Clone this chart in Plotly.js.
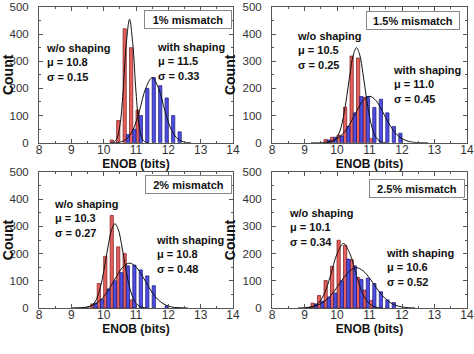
<!DOCTYPE html>
<html>
<head>
<meta charset="utf-8">
<script src="https://cdn.plot.ly/plotly-3.0.1.min.js"></script>
<style>html,body{margin:0;padding:0;background:#fff;}</style>
</head>
<body>
<div id="chart" style="width:474px;height:354px;"></div>
<script>
// Histogram bin centers (ENOB, bits)
const bins = [9.1, 9.3, 9.5, 9.7, 9.9, 10.1, 10.3, 10.5, 10.7, 10.9, 11.1, 11.3, 11.5, 11.7, 11.9, 12.1, 12.3, 12.5];

// Counts without shaping (red) and with shaping (blue), per mismatch panel
const red1  = [0, 0, 0, 0, 0, 0, 10, 82, 420, 350, 120, 0, 0, 0, 0, 0, 0, 0];
const blue1 = [0, 0, 0, 0, 0, 0, 0, 0, 30, 50, 100, 200, 240, 210, 165, 100, 40, 0];
const red2  = [0, 0, 0, 12, 20, 28, 131, 319, 312, 167, 15, 0, 0, 0, 0, 0, 0, 0];
const blue2 = [0, 0, 0, 10, 20, 25, 60, 110, 170, 170, 130, 160, 110, 60, 35, 0, 0, 0];
const red3  = [0, 0, 0, 15, 90, 190, 340, 225, 200, 30, 0, 0, 0, 0, 0, 0, 0, 0];
const blue3 = [0, 0, 0, 18, 32, 70, 100, 130, 155, 158, 140, 118, 82, 0, 8, 0, 0, 0];
const red4  = [0, 18, 46, 101, 153, 249, 231, 178, 112, 66, 28, 0, 0, 0, 0, 0, 0, 0];
const blue4 = [0, 15, 25, 40, 55, 100, 180, 155, 105, 110, 90, 60, 30, 20, 0, 0, 0, 0];

// Gaussian fit curves
const fitRedX1 = [10.2, 10.3, 10.4, 10.5, 10.6, 10.7, 10.8, 10.9, 11.0, 11.1, 11.2, 11.3, 11.4];
const fitRedY1 = [0, 2, 13, 61, 187, 365, 455, 365, 187, 61, 13, 2, 0];
const fitBlueX1 = [10.3, 10.5, 10.7, 10.9, 11.1, 11.3, 11.5, 11.7, 11.9, 12.1, 12.3, 12.5, 12.7];
const fitBlueY1 = [0, 2, 13, 46, 115, 200, 240, 200, 115, 46, 13, 2, 0];

const fitRedX2 = [9.7, 9.8, 9.9, 10.0, 10.1, 10.2, 10.3, 10.4, 10.5, 10.6, 10.7, 10.8, 10.9, 11.0, 11.1, 11.2, 11.3, 11.4, 11.5];
const fitRedY2 = [0, 2, 7, 20, 47, 97, 170, 254, 323, 350, 323, 254, 170, 97, 47, 20, 7, 2, 0];
const fitBlueX2 = [9.2, 9.4, 9.6, 9.8, 10.0, 10.2, 10.4, 10.6, 10.8, 11.0, 11.2, 11.4, 11.6, 11.8, 12.0, 12.2, 12.4, 12.6, 12.8];
const fitBlueY2 = [0, 0, 1, 5, 15, 35, 70, 115, 155, 171, 155, 115, 70, 35, 15, 5, 1, 0, 0];

const fitRedX3 = [9.35, 9.45, 9.55, 9.65, 9.75, 9.85, 9.95, 10.05, 10.15, 10.25, 10.35, 10.45, 10.55, 10.65, 10.75, 10.85, 10.95, 11.05, 11.15, 11.25, 11.35];
const fitRedY3 = [0, 1, 4, 11, 26, 56, 103, 167, 236, 289, 310, 289, 236, 167, 103, 56, 26, 11, 4, 1, 0];
const fitBlueX3 = [9.0, 9.2, 9.4, 9.6, 9.8, 10.0, 10.2, 10.4, 10.6, 10.8, 11.0, 11.2, 11.4, 11.6, 11.8, 12.0, 12.2, 12.4, 12.6];
const fitBlueY3 = [0, 1, 2, 7, 19, 41, 76, 117, 151, 165, 151, 117, 76, 41, 19, 7, 2, 1, 0];

const fitRedX4 = [9.0, 9.2, 9.4, 9.6, 9.8, 10.0, 10.2, 10.4, 10.6, 10.8, 11.0, 11.2, 11.4];
const fitRedY4 = [0, 3, 15, 50, 119, 199, 237, 199, 119, 50, 15, 3, 0];
const fitBlueX4 = [8.8, 9.0, 9.2, 9.4, 9.6, 9.8, 10.0, 10.2, 10.4, 10.6, 10.8, 11.0, 11.2, 11.4, 11.6, 11.8, 12.0, 12.2, 12.4];
const fitBlueY4 = [0, 1, 4, 10, 23, 45, 76, 110, 137, 148, 137, 110, 76, 45, 23, 10, 4, 1, 0];

// Text
const panelTitles = ['1% mismatch', '1.5% mismatch', '2% mismatch', '2.5% mismatch'];
const woLabels = [
  ['w/o shaping', 'μ = 10.8', 'σ = 0.15'],
  ['w/o shaping', 'μ = 10.5', 'σ = 0.25'],
  ['w/o shaping', 'μ = 10.3', 'σ = 0.27'],
  ['w/o shaping', 'μ = 10.1', 'σ = 0.34']
];
const withLabels = [
  ['with shaping', 'μ = 11.5', 'σ = 0.33'],
  ['with shaping', 'μ = 11.0', 'σ = 0.45'],
  ['with shaping', 'μ = 10.8', 'σ = 0.48'],
  ['with shaping', 'μ = 10.6', 'σ = 0.52']
];

const FONT = 'Liberation Sans, Arial, sans-serif';
const W = 474, H = 354;
const REDFILL = 'rgb(230,96,94)', REDLINE = 'rgb(120,25,25)';
const BLUEFILL = 'rgb(78,78,228)', BLUELINE = 'rgb(25,25,115)';

const reds = [red1, red2, red3, red4];
const blues = [blue1, blue2, blue3, blue4];
const fits = [
  [fitRedX1, fitRedY1, fitBlueX1, fitBlueY1],
  [fitRedX2, fitRedY2, fitBlueX2, fitBlueY2],
  [fitRedX3, fitRedY3, fitBlueX3, fitBlueY3],
  [fitRedX4, fitRedY4, fitBlueX4, fitBlueY4]
];

const nz = a => a.map(v => (v === 0 ? null : v));
const traces = [];
for (let i = 0; i < 4; i++) {
  const xa = i === 0 ? 'x' : 'x' + (i + 1);
  const ya = i === 0 ? 'y' : 'y' + (i + 1);
  traces.push({type: 'bar', x: bins, y: nz(reds[i]), width: 0.1, offset: -0.1, xaxis: xa, yaxis: ya,
    marker: {color: REDFILL, line: {color: REDLINE, width: 0.7}}, hoverinfo: 'skip'});
  traces.push({type: 'bar', x: bins, y: nz(blues[i]), width: 0.1, offset: 0, xaxis: xa, yaxis: ya,
    marker: {color: BLUEFILL, line: {color: BLUELINE, width: 0.7}}, hoverinfo: 'skip'});
  const f = fits[i];
  traces.push({type: 'scatter', mode: 'lines', x: f[0], y: f[1], xaxis: xa, yaxis: ya,
    line: {color: '#111', width: 1, shape: 'spline', smoothing: 1}, hoverinfo: 'skip'});
  traces.push({type: 'scatter', mode: 'lines', x: f[2], y: f[3], xaxis: xa, yaxis: ya,
    line: {color: '#111', width: 1, shape: 'spline', smoothing: 1}, hoverinfo: 'skip'});
}

// panel frames in pixels: [left, right, top, bottom]
const frames = [[39, 233, 7, 142.7], [272, 467, 7, 142.7], [39, 233, 172, 308], [272, 467, 172, 308]];

function xAxis(fr, anchor) {
  return {
    domain: [fr[0] / W, fr[1] / W], anchor: anchor, range: [8, 14], tick0: 8, dtick: 1,
    ticks: 'inside', ticklen: 4, tickcolor: '#555', mirror: 'ticks', showline: true,
    linecolor: '#555', linewidth: 1, showgrid: false, zeroline: false,
    minor: {ticks: 'inside', ticklen: 2, dtick: 0.5, tickcolor: '#555'},
    ticklabeloverflow: 'allow', ticklabelstandoff: -4,
    tickfont: {family: FONT, size: 12, color: '#333'},
    title: {text: '<b>ENOB (bits)</b>', font: {family: FONT, size: 12, color: '#111'}, standoff: 0}
  };
}
function yAxis(fr, anchor) {
  return {
    domain: [1 - fr[3] / H, 1 - fr[2] / H], anchor: anchor, range: [0, 500], tick0: 0, dtick: 100,
    ticks: 'inside', ticklen: 4, tickcolor: '#555', mirror: 'ticks', showline: true,
    linecolor: '#555', linewidth: 1, showgrid: false, zeroline: false,
    minor: {ticks: 'inside', ticklen: 2, dtick: 50, tickcolor: '#555'},
    ticklabeloverflow: 'allow', ticklabelstandoff: 7,
    tickfont: {family: FONT, size: 11.5, color: '#333'},
    title: {text: '<b>Count</b>', font: {family: FONT, size: 14, color: '#111'}, standoff: 3}
  };
}

const layout = {
  width: W, height: H, margin: {l: 0, r: 0, t: 0, b: 0},
  paper_bgcolor: '#fff', plot_bgcolor: '#fff', showlegend: false, barmode: 'overlay',
  xaxis: xAxis(frames[0], 'y'), yaxis: yAxis(frames[0], 'x'),
  xaxis2: xAxis(frames[1], 'y2'), yaxis2: yAxis(frames[1], 'x2'),
  xaxis3: xAxis(frames[2], 'y3'), yaxis3: yAxis(frames[2], 'x3'),
  xaxis4: xAxis(frames[3], 'y4'), yaxis4: yAxis(frames[3], 'x4'),
  annotations: []
};

// label placement (pixels)
const boxPos = [[188, 19.5, 84], [413, 20, 90], [188.5, 184.5, 83], [417, 188.5, 92]];
const woPos = [[44, 62], [295, 50], [52, 218.5], [287, 227.8]];
const withPos = [[155, 61], [391, 85], [154, 254.5], [384, 267.6]];

for (let i = 0; i < 4; i++) {
  const b = boxPos[i];
  layout.annotations.push({
    xref: 'paper', yref: 'paper', x: b[0] / W, y: 1 - b[1] / H, xanchor: 'center', yanchor: 'middle',
    text: '<b>' + panelTitles[i] + '</b>', showarrow: false, width: b[2], height: 15,
    bgcolor: '#fff', bordercolor: '#888', borderwidth: 1, borderpad: 1,
    font: {family: FONT, size: 11, color: '#111'}
  });
  const w = woPos[i];
  layout.annotations.push({
    xref: 'paper', yref: 'paper', x: w[0] / W, y: 1 - w[1] / H, xanchor: 'left', yanchor: 'middle', align: 'left',
    text: '<b>' + woLabels[i].join('<br>') + '</b>', showarrow: false,
    font: {family: FONT, size: 11, color: '#111'}
  });
  const p = withPos[i];
  layout.annotations.push({
    xref: 'paper', yref: 'paper', x: p[0] / W, y: 1 - p[1] / H, xanchor: 'left', yanchor: 'middle', align: 'left',
    text: '<b>' + withLabels[i].join('<br>') + '</b>', showarrow: false,
    font: {family: FONT, size: 11, color: '#111'}
  });
}

Plotly.newPlot('chart', traces, layout, {staticPlot: true, displayModeBar: false});
</script>
</body>
</html>
